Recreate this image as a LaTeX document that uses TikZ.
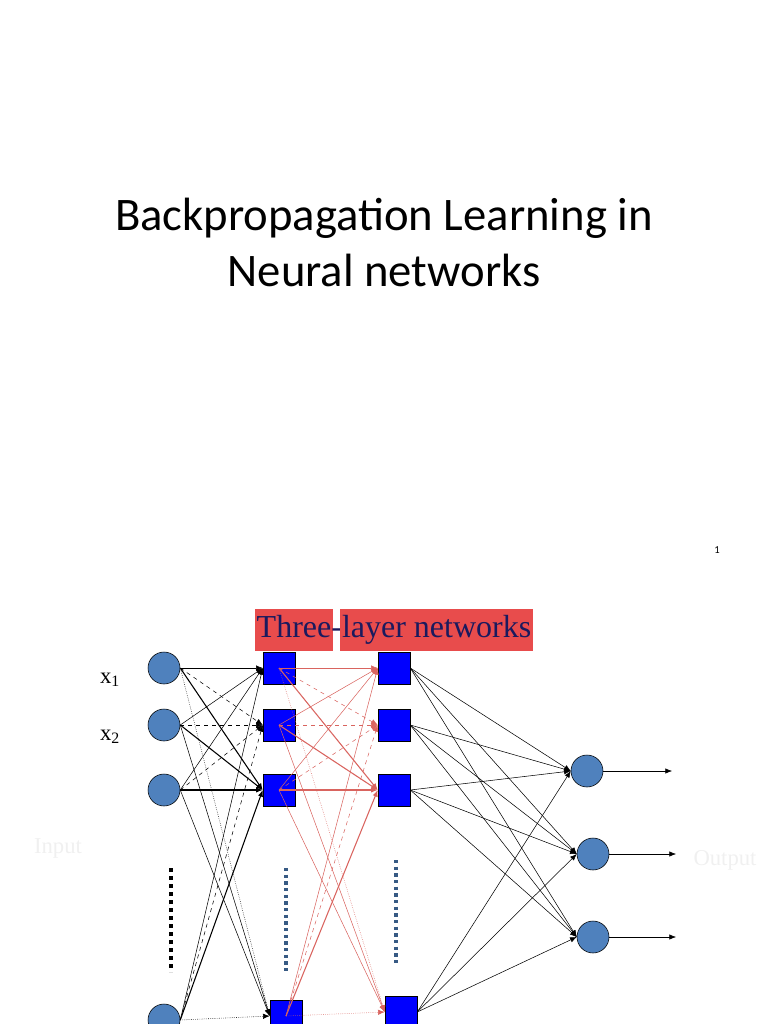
\documentclass[tikz,border=0pt]{standalone}
\usepackage{fontspec}
\setmainfont{Liberation Serif}
\newfontfamily\titlefont{Carlito}
\usetikzlibrary {arrows.meta, positioning}
\definecolor{unitblue}{HTML}{4F81BD}
\definecolor{hlred}{HTML}{E84C4C}
\definecolor{wred}{HTML}{D9645F}
\definecolor{navy}{HTML}{1A1A5E}
\tikzset{
  >={Latex[length=5pt,width=4pt]},
  inunit/.style={circle, draw, fill=unitblue, minimum size=24, inner sep=0},
  hidunit/.style={rectangle, draw, fill=blue, minimum size=24, inner sep=0},
  hl/.style={fill=hlred, inner sep=1pt, text=navy}
}

\begin{document}
\begin{tikzpicture}[x=0.75pt, y=-0.75pt]
    \useasboundingbox (0, 0) rectangle (768, 1024);
    % title
    \node[font=\titlefont\fontsize{35}{42}\selectfont, align=center] (title) at (384, 242)
        {Backpropagation Learning in\\Neural networks};
    \node[font=\titlefont\fontsize{8}{10}\selectfont] (page) at (717, 550) {1};
    \node[font=\fontsize{24}{28}\selectfont, text=navy] (head) at (394, 630)
        {\setlength{\fboxsep}{1.5pt}\colorbox{hlred}{\strut Three}\kern-1.5pt-\kern-1.5pt\colorbox{hlred}{\strut layer networks}};
    % units
    \foreach \n/\y in {1/668, 2/725, 3/790, 4/1020}
        \node[inunit] (i\n) at (164, \y) {};
    \foreach \n/\x/\y in {1/279/668, 2/279/725, 3/279/790, 4/286/1016}
        \node[hidunit] (h\n) at (\x, \y) {};
    \foreach \n/\x/\y in {1/394/668, 2/394/725, 3/394/790, 4/401/1012}
        \node[hidunit] (g\n) at (\x, \y) {};
    \foreach \n/\x/\y in {1/587/771, 2/593/854, 3/593/937}
        \node[inunit] (o\n) at (\x, \y) {};
    \foreach \n/\x/\y in {1/672/771, 2/676/854, 3/676/937}
        \coordinate (e\n) at (\x, \y);
    % labels
    \node[font=\fontsize{17}{19}\selectfont] (lx1) at (110, 680) {x\textsubscript{1}};
    \node[font=\fontsize{17}{19}\selectfont] (lx2) at (110, 737) {x\textsubscript{2}};
    \node[font=\fontsize{17}{19}\selectfont] (lxn) at (120, 1032) {x\textsubscript{n}};
    \node[font=\fontsize{17}{19}\selectfont, text=black!6] (lin) at (58, 848) {Input};
    \node[font=\fontsize{17}{19}\selectfont, text=black!6] (lout) at (725, 860) {Output};
    % dots
    \draw[line width=3pt, dash pattern=on 3pt off 3pt] (171, 868) -- (171, 972);
    \draw[line width=2.6pt, unitblue!70!black, dash pattern=on 2.5pt off 2.5pt] (286, 868) -- (286, 972);
    \draw[line width=2.6pt, unitblue!70!black, dash pattern=on 2.5pt off 2.5pt] (396, 860) -- (396, 966);
    % input -> hidden
    \foreach \a/\b/\s in {1/1/thin, 1/2/dashed, 1/3/thick, 1/4/densely dotted,
                          2/1/thin, 2/2/dashed, 2/3/thick, 2/4/thin,
                          3/1/thin, 3/2/dashed, 3/3/thick, 3/4/thin,
                          4/1/thin, 4/2/dashed, 4/3/thick, 4/4/densely dotted}
        \draw[->, \s] (i\a.east) -- (h\b.west);
    % hidden -> hidden
    \foreach \a/\b/\s in {1/1/thin, 1/2/dashed, 1/3/thick, 1/4/densely dotted,
                          2/1/thin, 2/2/dashed, 2/3/thick, 2/4/thin,
                          3/1/thin, 3/2/dashed, 3/3/thick, 3/4/thin,
                          4/1/thin, 4/2/dashed, 4/3/thick, 4/4/densely dotted}
        \draw[->, wred, \s] (h\a.center) -- (g\b.west);
    % hidden -> output
    \foreach \a in {1, 2, 3, 4}
        \foreach \b in {1, 2, 3}
            \draw[->, thin] (g\a.east) -- (o\b.west);
    \foreach \b in {1, 2, 3}
        \draw[->] (o\b) -- (e\b);
\end{tikzpicture}
\end{document}
